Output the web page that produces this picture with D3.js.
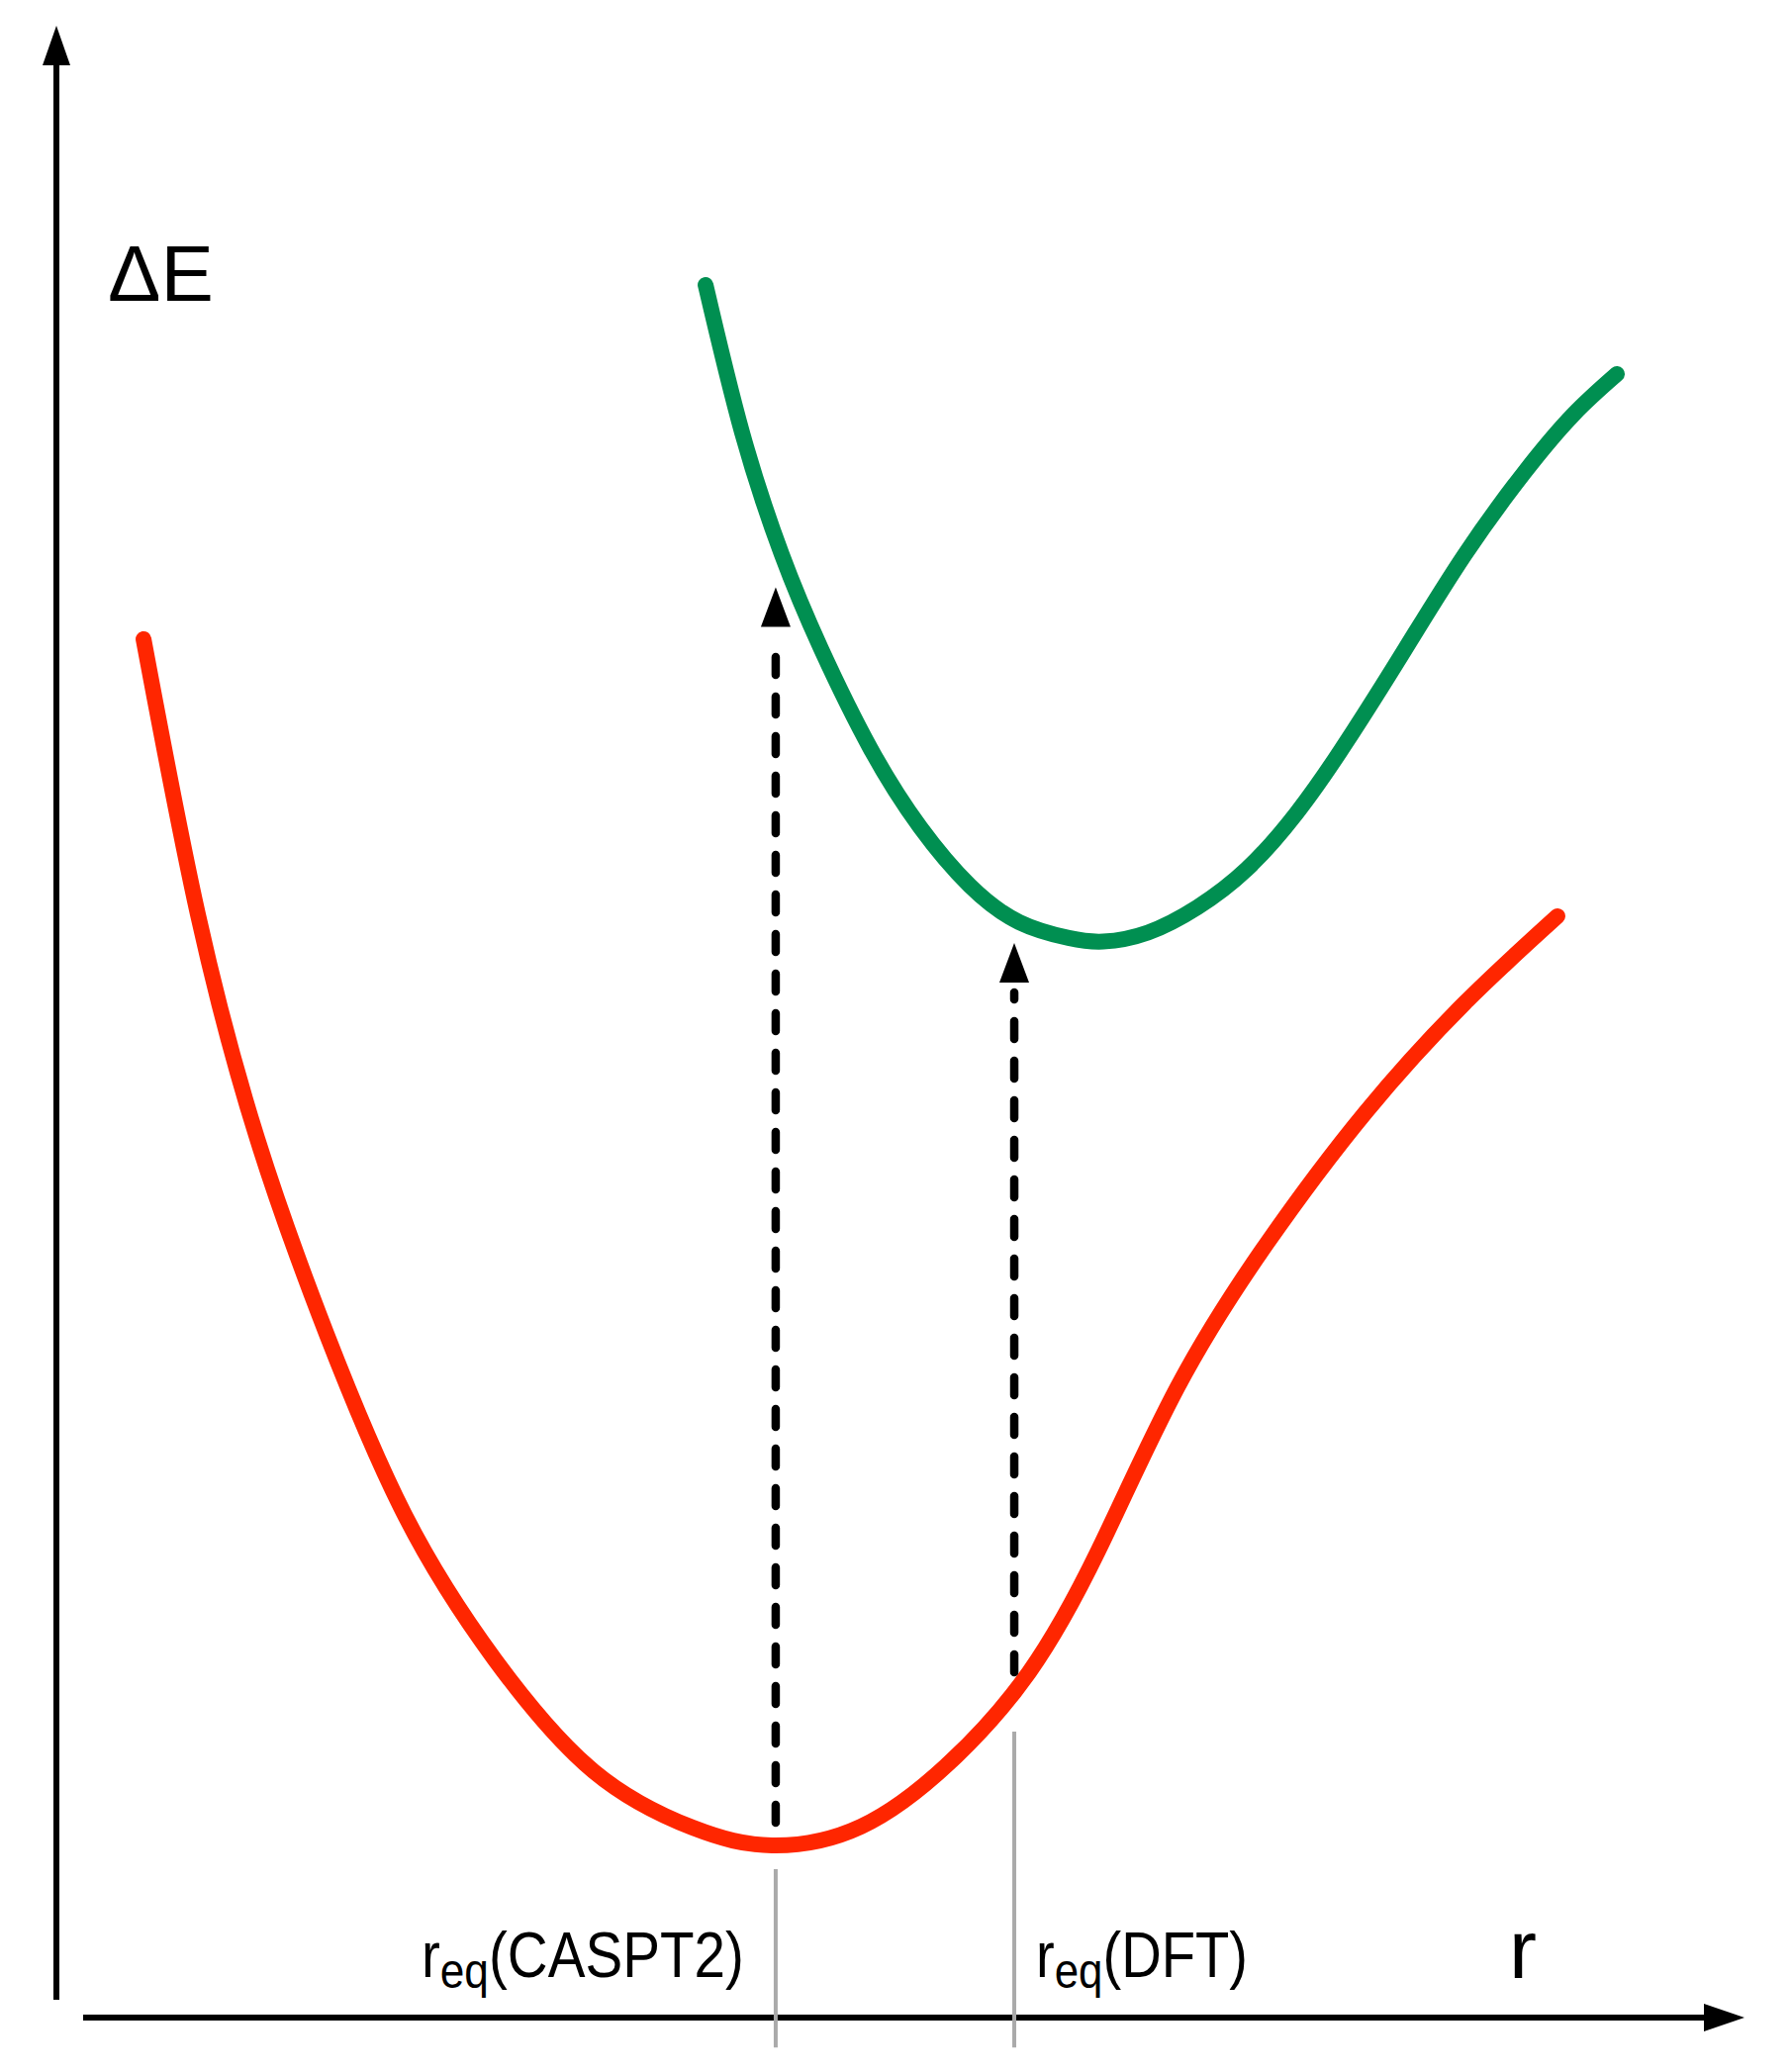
<!DOCTYPE html>
<html>
<head>
<meta charset="utf-8">
<script src="https://cdn.jsdelivr.net/npm/d3@7"></script>
<style>
  html, body { margin: 0; padding: 0; background: #fff; }
  svg { display: block; }
</style>
</head>
<body>
<svg id="chart" width="1810" height="2094"></svg>
<script>
// ground state (red) : r, E  (arbitrary units 0..100)
const redR = [5.19, 8.39, 11.89, 15.97, 20.63, 25.87, 31.7, 37.53, 42.19, 47.44, 52.68, 57.34, 61.42, 66.08, 71.33, 77.16, 82.98, 88.46];
const redE = [69.36, 55.59, 44.36, 34.6, 25.45, 18.32, 12.72, 9.9, 9.01, 9.95, 13.17, 17.67, 23.76, 31.93, 39.11, 45.69, 51.14, 55.5];

// excited state (green)
const greenR = [38.29, 40.44, 42.77, 45.1, 48.02, 50.93, 53.85, 56.76, 59.67, 61.71, 64.34, 67.25, 70.16, 73.08, 75.99,
                79.49, 82.98, 86.48, 89.39, 91.96];
const greenE = [87.08, 79.7, 73.61, 68.86, 63.86, 59.95, 57.03, 55.2, 54.41, 54.23, 54.68, 55.94, 57.85, 60.64, 64.16,
                68.86, 73.56, 77.67, 80.59, 82.62];

// vertical excitations at the two equilibrium distances
const reqNames = ["CASPT2", "DFT"];
const reqR = [42.42, 56.47];
const exFrom = [10.15, 17.67];
const exTo = [71.95, 54.16];
const guideTop = [7.82, 14.7];
const guideBottom = [-1.1, -1.1];

const svg = d3.select("#chart");
const W = 1810, H = 2094;
svg.append("rect").attr("width", W).attr("height", H).attr("fill", "#fff");

const x = d3.scaleLinear().domain([0, 100]).range([56, 1772]);
const y = d3.scaleLinear().domain([0, 100]).range([2047, 27]);

const font = "'Liberation Sans', Arial, sans-serif";

// --- axes (schematic arrows) ---
const axisX0 = 57, axisY0 = 2039;
svg.append("line").attr("x1", axisX0).attr("x2", axisX0).attr("y1", 2021).attr("y2", 60)
  .attr("stroke", "#000").attr("stroke-width", 6);
svg.append("path").attr("d", `M${axisX0},26 L${axisX0 - 14},66 L${axisX0 + 14},66 Z`).attr("fill", "#000");

svg.append("line").attr("x1", 84).attr("x2", 1730).attr("y1", axisY0).attr("y2", axisY0)
  .attr("stroke", "#000").attr("stroke-width", 6);
svg.append("path").attr("d", `M1763,${axisY0} L1722,${axisY0 - 14} L1722,${axisY0 + 14} Z`).attr("fill", "#000");

// --- gray guide lines ---
reqR.forEach((r, i) => {
  svg.append("line")
    .attr("x1", x(r)).attr("x2", x(r))
    .attr("y1", y(guideTop[i])).attr("y2", y(guideBottom[i]))
    .attr("stroke", "#aaaaaa").attr("stroke-width", 4);
});

// --- curves ---
const line = d3.line()
  .x(d => x(d[0]))
  .y(d => y(d[1]))
  .curve(d3.curveNatural);

svg.append("path")
  .datum(redR.map((r, i) => [r, redE[i]]))
  .attr("fill", "none")
  .attr("stroke", "#ff2600")
  .attr("stroke-width", 16)
  .attr("stroke-linecap", "round")
  .attr("d", line);

svg.append("path")
  .datum(greenR.map((r, i) => [r, greenE[i]]))
  .attr("fill", "none")
  .attr("stroke", "#008f51")
  .attr("stroke-width", 16)
  .attr("stroke-linecap", "round")
  .attr("d", line);

// --- dashed vertical arrows ---
reqR.forEach((r, i) => {
  const tip = y(exTo[i]);
  svg.append("line")
    .attr("x1", x(r)).attr("x2", x(r))
    .attr("y1", y(exFrom[i])).attr("y2", tip + 50)
    .attr("stroke", "#000").attr("stroke-width", 8.5)
    .attr("stroke-linecap", "round")
    .attr("stroke-dasharray", "18,22");
  svg.append("path")
    .attr("d", `M${x(r)},${tip} L${x(r) - 15},${tip + 40} L${x(r) + 15},${tip + 40} Z`)
    .attr("fill", "#000");
});

// --- texts ---
function label(x0, anchorRight, width, baseline, name) {
  const t = svg.append("text").attr("font-family", font).attr("fill", "#000");
  t.append("tspan").attr("font-size", 64).text("r");
  t.append("tspan").attr("font-size", 50).attr("dy", 11).text("eq");
  t.append("tspan").attr("font-size", 64).attr("dy", -11).text("(" + name + ")");
  const bb = t.node().getBBox();
  const sx = width / bb.width;
  const left = anchorRight ? x0 - width : x0;
  t.attr("transform", `translate(${left - bb.x * sx},${baseline}) scale(${sx},1)`);
}
label(x(reqR[0]) - 32, true, 326, 1998, reqNames[0]);
label(x(reqR[1]) + 22, false, 214, 1998, reqNames[1]);

svg.append("text")
  .attr("x", 109).attr("y", 304)
  .attr("font-family", font).attr("font-size", 80)
  .text("ΔE");

svg.append("text")
  .attr("x", 1525).attr("y", 1999)
  .attr("font-family", font).attr("font-size", 84)
  .text("r");
</script>
</body>
</html>
